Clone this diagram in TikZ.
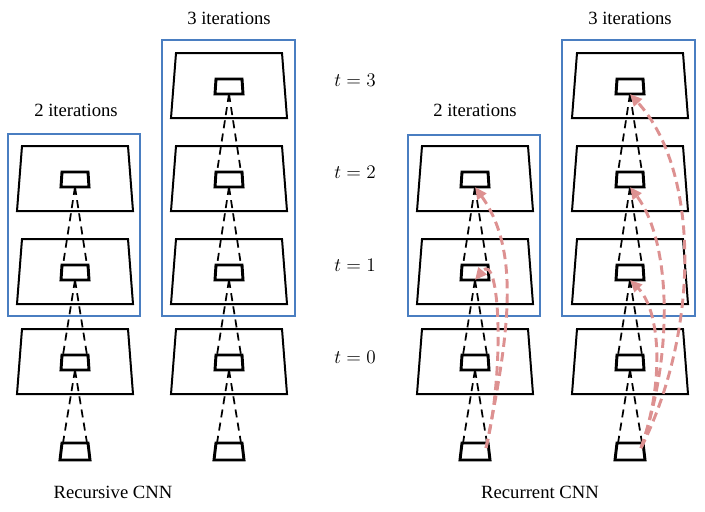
\documentclass[tikz,border=0pt]{standalone}
\usepackage{fontspec}
\setmainfont{Liberation Serif}
\usetikzlibrary{arrows.meta}
\tikzset{every picture/.style={line width=0.75pt}}
\tikzset{
  layer/.style={line width=1.5pt, line join=miter},
  patch/.style={line width=2.2pt, line join=miter},
  field/.style={line width=1.3pt, dash pattern=on 6pt off 4pt},
  group/.style={color={rgb, 255:red, 74; green, 126; blue, 193}, line width=1.5pt},
  recur/.style={color={rgb, 255:red, 221; green, 145; blue, 145}, line width=2.2pt, dash pattern=on 7pt off 4pt, -{Triangle[length=9pt,width=8pt]}},
  lbl/.style={font=\fontsize{14}{16}\selectfont}
}

\begin{document}
\begin{tikzpicture}[x=0.75pt,y=0.75pt,yscale=-1,xscale=1]
\useasboundingbox (0,0) rectangle (705,511);

%Shape: Groups
\draw [group] (8,134) rectangle (140,316);
\draw [group] (162,40) rectangle (295,316);
\draw [group] (408,135) rectangle (540,316);
\draw [group] (562,40) rectangle (695,316);

%Columns
\foreach \cx/\n/\col in {75/2/a, 229/3/b, 475/2/c, 630/3/d}{
  % input patch
  \draw [patch] (\cx-13,443) -- (\cx+13,443) -- (\cx+15,460) -- (\cx-15,460) -- cycle;
  \coordinate (in\col L) at (\cx-12,443);
  \coordinate (in\col R) at (\cx+12,443);
  \coordinate (in\col) at (\cx+11,448);
  \foreach \l/\ty in {0/329, 1/239, 2/146, 3/53}{
    \ifnum\l>\n\relax\else
      %Shape: Layer
      \draw [layer] (\cx-53,\ty) -- (\cx+53,\ty) -- (\cx+58,\ty+65) -- (\cx-58,\ty+65) -- cycle;
      \draw [patch] (\cx-13,\ty+26) -- (\cx+13,\ty+26) -- (\cx+14,\ty+41) -- (\cx-14,\ty+41) -- cycle;
      \coordinate (\col\l) at (\cx,\ty+41);
      \coordinate (\col\l L) at (\cx-12,\ty+26);
      \coordinate (\col\l R) at (\cx+12,\ty+26);
    \fi
  }
}

%Receptive field lines
\foreach \n/\col in {2/a, 3/b, 2/c, 3/d}{
  \draw [field] (\col0) -- (in\col L) (\col0) -- (in\col R);
  \foreach \l [evaluate=\l as \m using int(\l-1)] in {1,...,\n}{
    \draw [field] (\col\l) -- (\col\m L) (\col\l) -- (\col\m R);
  }
}

%Recurrent connections
\draw [recur] (inc) .. controls (505,370) and (500,250) .. (c1);
\draw [recur] (inc) .. controls (510,330) and (520,250) .. (c2);
\draw [recur] (ind) .. controls (665,380) and (660,310) .. (d1);
\draw [recur] (ind) .. controls (675,350) and (670,240) .. (d2);
\draw [recur] (ind) .. controls (700,330) and (700,170) .. (d3);

% Text Nodes
\node [lbl] (it2a) at (76,110) {2 iterations};
\node [lbl] (it3b) at (229,18) {3 iterations};
\node [lbl] (it2c) at (475,110) {2 iterations};
\node [lbl] (it3d) at (630,18) {3 iterations};
\node [lbl] (t3) at (355,80) {$t=3$};
\node [lbl] (t2) at (355,172) {$t=2$};
\node [lbl] (t1) at (355,265) {$t=1$};
\node [lbl] (t0) at (355,357) {$t=0$};
\node [lbl] (rec) at (113,492) {Recursive CNN};
\node [lbl] (rnn) at (540,492) {Recurrent CNN};
\end{tikzpicture}
\end{document}
